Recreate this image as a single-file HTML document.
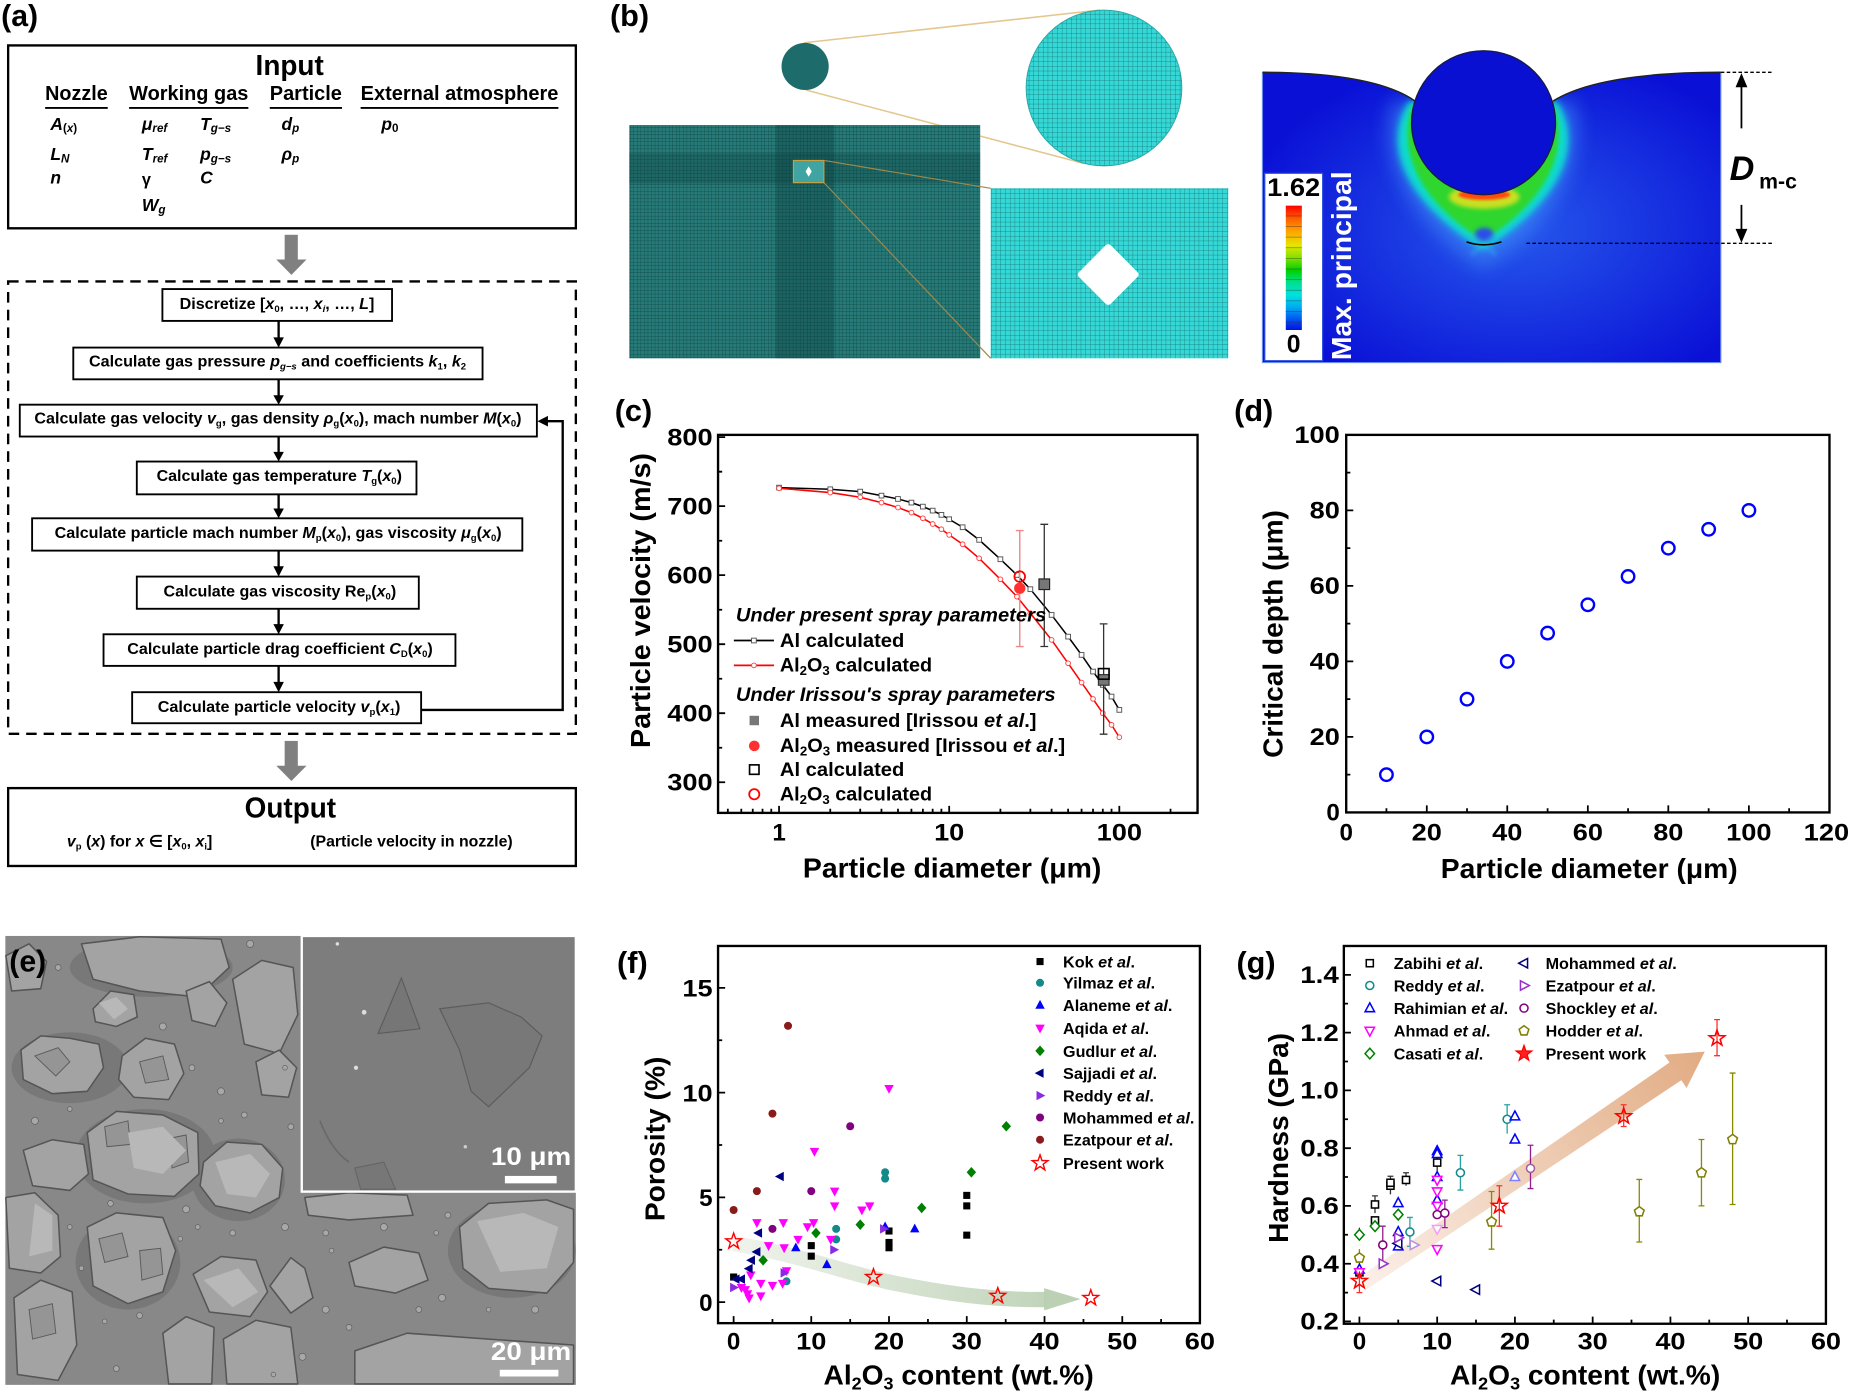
<!DOCTYPE html>
<html><head><meta charset="utf-8"><style>
html,body{margin:0;padding:0;background:#fff;}
svg{display:block;}
text{font-family:"Liberation Sans",Arial,sans-serif;font-weight:bold;fill:#000;}
</style></head><body>
<svg width="1850" height="1391" viewBox="0 0 1568 1179" preserveAspectRatio="none" xmlns="http://www.w3.org/2000/svg" xmlns:xlink="http://www.w3.org/1999/xlink">
<defs>
<pattern id="meshD" width="3" height="3" patternUnits="userSpaceOnUse"><rect width="3" height="3" fill="#287a78"/><path d="M0,0H3M0,0V3" stroke="#0f4f4d" stroke-width="0.7"/></pattern>
<pattern id="meshC" width="4" height="4" patternUnits="userSpaceOnUse"><rect width="4" height="4" fill="#35d8d6"/><path d="M0,0H4M0,0V4" stroke="#137472" stroke-width="0.6"/></pattern>
<linearGradient id="cbar" x1="0" y1="0" x2="0" y2="1">
<stop offset="0" stop-color="#ff0000"/><stop offset="0.1" stop-color="#ff5a00"/><stop offset="0.2" stop-color="#ffa000"/><stop offset="0.32" stop-color="#e6e600"/><stop offset="0.42" stop-color="#80e000"/><stop offset="0.52" stop-color="#00d000"/><stop offset="0.62" stop-color="#00e090"/><stop offset="0.72" stop-color="#00e0e0"/><stop offset="0.82" stop-color="#00a8f0"/><stop offset="0.92" stop-color="#0050f0"/><stop offset="1" stop-color="#0010e0"/></linearGradient>
<radialGradient id="bgblue" cx="0.55" cy="0.55" r="0.6"><stop offset="0" stop-color="#2658ec"/><stop offset="1" stop-color="#0a10d6"/></radialGradient>
<filter id="bl8" x="-50%" y="-50%" width="200%" height="200%"><feGaussianBlur stdDeviation="8"/></filter>
<filter id="bl3" x="-50%" y="-50%" width="200%" height="200%"><feGaussianBlur stdDeviation="3"/></filter>
<filter id="bl2" x="-50%" y="-50%" width="200%" height="200%"><feGaussianBlur stdDeviation="1.8"/></filter>
<filter id="bl1" x="-50%" y="-50%" width="200%" height="200%"><feGaussianBlur stdDeviation="1.1"/></filter>
<clipPath id="contourClip"><path d="M1070,61.3 Q1165,61.5 1199.2,85.6 L1257,104 L1316.4,85.6 Q1355,61.5 1458.5,61.3 L1458.5,307.3 L1070,307.3 Z"/></clipPath>
<linearGradient id="garrow" gradientUnits="userSpaceOnUse" x1="622" y1="1054" x2="916" y2="1101"><stop offset="0" stop-color="#eef2ea"/><stop offset="1" stop-color="#b5ccad"/></linearGradient>
<linearGradient id="parrow" gradientUnits="userSpaceOnUse" x1="1155" y1="1088" x2="1445" y2="891"><stop offset="0" stop-color="#fbeee6"/><stop offset="1" stop-color="#dea275"/></linearGradient>
<path id="star" d="M0,-7L1.65,-2.27L6.66,-2.16L2.66,0.87L4.11,5.66L0,2.8L-4.11,5.66L-2.66,0.87L-6.66,-2.16L-1.65,-2.27Z"/>
<rect id="sq" x="-3" y="-3" width="6" height="6"/>
<circle id="ci" cx="0" cy="0" r="3.4"/>
<path id="tu" d="M0,-4.5L4,3L-4,3Z"/>
<path id="td" d="M0,4.5L4,-3L-4,-3Z"/>
<path id="tl" d="M-4.5,0L3,-4L3,4Z"/>
<path id="tr" d="M4.5,0L-3,-4L-3,4Z"/>
<path id="di" d="M0,-4.5L4,0L0,4.5L-4,0Z"/>
<path id="pe" d="M0,-4.3L4.1,-1.3L2.5,3.5L-2.5,3.5L-4.1,-1.3Z"/>
</defs>
<rect width="1568" height="1179" fill="#fff"/>

<!-- ========== (a) ========== -->
<g transform="scale(0.986,1)">
<text x="1" y="22" font-size="26">(a)</text>
<rect x="7" y="38.5" width="488" height="155" fill="none" stroke="#000" stroke-width="2"/>
<text x="249" y="63.5" font-size="24" text-anchor="middle">Input</text>
<g font-size="17">
<text x="38.8" y="84.7" textLength="53.8" lengthAdjust="spacingAndGlyphs">Nozzle</text>
<text x="111" y="84.7" textLength="102.5" lengthAdjust="spacingAndGlyphs">Working gas</text>
<text x="231.9" y="84.7" textLength="62" lengthAdjust="spacingAndGlyphs">Particle</text>
<text x="310" y="84.7" textLength="170" lengthAdjust="spacingAndGlyphs">External atmosphere</text>
</g>
<path d="M38.8,91.5H92.6M111,91.5H213.5M231.9,91.5H294M310,91.5H480" stroke="#000" stroke-width="1.6"/>
<g font-size="15" font-style="italic">
<text x="43.3" y="110">A<tspan font-size="10" dy="2" font-style="normal">(</tspan><tspan font-size="10">x</tspan><tspan font-size="10" font-style="normal">)</tspan></text>
<text x="43.3" y="135.6">L<tspan font-size="10" dy="2">N</tspan></text>
<text x="43.3" y="155.4">n</text>
<text x="122" y="110">μ<tspan font-size="10" dy="2">ref</tspan></text>
<text x="122" y="135.6">T<tspan font-size="10" dy="2">ref</tspan></text>
<text x="122" y="157" font-style="normal" font-family="DejaVu Serif, serif" font-size="14">γ</text>
<text x="122" y="179">W<tspan font-size="10" dy="2">g</tspan></text>
<text x="172" y="110">T<tspan font-size="10" dy="2">g−s</tspan></text>
<text x="172" y="135.6">p<tspan font-size="10" dy="2">g−s</tspan></text>
<text x="172" y="155.4">C</text>
<text x="242" y="110">d<tspan font-size="10" dy="2">p</tspan></text>
<text x="242" y="135.6">ρ<tspan font-size="10" dy="2">p</tspan></text>
<text x="327.8" y="110">p<tspan font-size="10" dy="2" font-style="normal">0</tspan></text>
</g>
<rect x="244.7" y="199" width="11.3" height="22" fill="#808080"/>
<polygon points="237.5,220 263.5,220 250.5,233" fill="#808080"/>
<rect x="244.7" y="628" width="11.3" height="22" fill="#808080"/>
<polygon points="237.5,649 263.5,649 250.5,662" fill="#808080"/>
<rect x="7" y="238.5" width="488" height="383.5" fill="none" stroke="#000" stroke-width="2" stroke-dasharray="9,6"/>
<g fill="#fff" stroke="#000" stroke-width="1.6">
<rect x="139.6" y="245" width="197.4" height="27"/>
<rect x="63" y="294.6" width="351.8" height="26.9"/>
<rect x="17" y="343" width="444.5" height="27"/>
<rect x="117.6" y="391.2" width="240.4" height="27.8"/>
<rect x="27.6" y="439.3" width="421.4" height="27.4"/>
<rect x="117.6" y="488.7" width="242.4" height="27.3"/>
<rect x="89" y="537.6" width="302.5" height="26.8"/>
<rect x="113.6" y="586.7" width="248.4" height="26.3"/>
</g>
<g stroke="#000" stroke-width="2">
<path d="M239.5,272V287M239.5,321.5V336M239.5,370V384M239.5,419V432M239.5,466.7V481M239.5,516V530M239.5,564.4V579"/>
<polyline points="362,601.7 483.7,601.7 483.7,357 470,357" fill="none"/>
</g>
<g fill="#000">
<polygon points="235,286 244,286 239.5,294.6"/>
<polygon points="235,335 244,335 239.5,343"/>
<polygon points="235,383 244,383 239.5,391.2"/>
<polygon points="235,431 244,431 239.5,439.3"/>
<polygon points="235,480 244,480 239.5,488.7"/>
<polygon points="235,529 244,529 239.5,537.6"/>
<polygon points="235,578 244,578 239.5,586.7"/>
<polygon points="471,352.5 471,361.5 462,357"/>
</g>
<g font-size="13.5">
<text x="154.4" y="262.1" textLength="167.4" lengthAdjust="spacingAndGlyphs">Discretize [<tspan font-style="italic">x</tspan><tspan font-size="8" dy="2.5">0</tspan><tspan dy="-2.5">, …, </tspan><tspan font-style="italic">x</tspan><tspan font-size="8" dy="2.5" font-style="italic">i</tspan><tspan dy="-2.5">, …, </tspan><tspan font-style="italic">L</tspan>]</text>
<text x="76.5" y="310.7" textLength="324.2" lengthAdjust="spacingAndGlyphs">Calculate gas pressure <tspan font-style="italic">p</tspan><tspan font-size="8" dy="2.5" font-style="italic">g−s</tspan><tspan dy="-2.5"> and coefficients </tspan><tspan font-style="italic">k</tspan><tspan font-size="8" dy="2.5">1</tspan><tspan dy="-2.5">, </tspan><tspan font-style="italic">k</tspan><tspan font-size="8" dy="2.5">2</tspan></text>
<text x="29.6" y="358.8" textLength="418.7" lengthAdjust="spacingAndGlyphs">Calculate gas velocity <tspan font-style="italic">v</tspan><tspan font-size="8" dy="2.5">g</tspan><tspan dy="-2.5">, gas density </tspan><tspan font-style="italic">ρ</tspan><tspan font-size="8" dy="2.5">g</tspan><tspan dy="-2.5">(</tspan><tspan font-style="italic">x</tspan><tspan font-size="8" dy="2.5">0</tspan><tspan dy="-2.5">), mach number </tspan><tspan font-style="italic">M</tspan>(<tspan font-style="italic">x</tspan><tspan font-size="8" dy="2.5">0</tspan><tspan dy="-2.5">)</tspan></text>
<text x="134.6" y="407.6" textLength="210.9" lengthAdjust="spacingAndGlyphs">Calculate gas temperature <tspan font-style="italic">T</tspan><tspan font-size="8" dy="2.5">g</tspan><tspan dy="-2.5">(</tspan><tspan font-style="italic">x</tspan><tspan font-size="8" dy="2.5">0</tspan><tspan dy="-2.5">)</tspan></text>
<text x="47" y="456.2" textLength="384.2" lengthAdjust="spacingAndGlyphs">Calculate particle mach number <tspan font-style="italic">M</tspan><tspan font-size="8" dy="2.5">p</tspan><tspan dy="-2.5">(</tspan><tspan font-style="italic">x</tspan><tspan font-size="8" dy="2.5">0</tspan><tspan dy="-2.5">), gas viscosity </tspan><tspan font-style="italic">μ</tspan><tspan font-size="8" dy="2.5">g</tspan><tspan dy="-2.5">(</tspan><tspan font-style="italic">x</tspan><tspan font-size="8" dy="2.5">0</tspan><tspan dy="-2.5">)</tspan></text>
<text x="140.6" y="505.7" textLength="200" lengthAdjust="spacingAndGlyphs">Calculate gas viscosity Re<tspan font-size="8" dy="2.5">p</tspan><tspan dy="-2.5">(</tspan><tspan font-style="italic">x</tspan><tspan font-size="8" dy="2.5">0</tspan><tspan dy="-2.5">)</tspan></text>
<text x="109.4" y="554.2" textLength="262.6" lengthAdjust="spacingAndGlyphs">Calculate particle drag coefficient <tspan font-style="italic">C</tspan><tspan font-size="8" dy="2.5">D</tspan><tspan dy="-2.5">(</tspan><tspan font-style="italic">x</tspan><tspan font-size="8" dy="2.5">0</tspan><tspan dy="-2.5">)</tspan></text>
<text x="135.6" y="603.7" textLength="208.6" lengthAdjust="spacingAndGlyphs">Calculate particle velocity <tspan font-style="italic">v</tspan><tspan font-size="8" dy="2.5">p</tspan><tspan dy="-2.5">(</tspan><tspan font-style="italic">x</tspan><tspan font-size="8" dy="2.5">1</tspan><tspan dy="-2.5">)</tspan></text>
</g>
<rect x="7" y="668" width="488" height="66" fill="none" stroke="#000" stroke-width="2"/>
<text x="249.6" y="693" font-size="24" text-anchor="middle">Output</text>
<g font-size="13.5">
<text x="57.5" y="717.5" textLength="125" lengthAdjust="spacingAndGlyphs"><tspan font-style="italic">v</tspan><tspan font-size="8" dy="2.5">p</tspan><tspan dy="-2.5"> (</tspan><tspan font-style="italic">x</tspan>) for <tspan font-style="italic">x</tspan> ∈ [<tspan font-style="italic">x</tspan><tspan font-size="8" dy="2.5">0</tspan><tspan dy="-2.5">, </tspan><tspan font-style="italic">x</tspan><tspan font-size="8" dy="2.5">i</tspan><tspan dy="-2.5">]</tspan></text>
<text x="266.7" y="717.5" textLength="174" lengthAdjust="spacingAndGlyphs">(Particle velocity in nozzle)</text>
</g>
</g>

<!-- ========== (b) ========== -->
<text x="517" y="22" font-size="26">(b)</text>
<path d="M681.4,36.2L932.3,8.5M683.1,76.3L918,138.4" stroke="#e3c78f" stroke-width="1.3"/>
<circle cx="682.4" cy="56.3" r="20" fill="#1d6b6a"/>
<circle cx="935.7" cy="74.6" r="66" fill="url(#meshC)"/>
<circle cx="935.7" cy="74.6" r="66" fill="none" stroke="#2aa8a8" stroke-width="0.8"/>
<rect x="533.4" y="106" width="297.4" height="197.7" fill="url(#meshD)"/>
<rect x="657.5" y="106" width="49.5" height="197.7" fill="#0a3a3a" opacity="0.35"/>
<rect x="533.4" y="130" width="297.4" height="25.4" fill="#0a3a3a" opacity="0.3"/>
<rect x="672.5" y="136" width="25.8" height="18.8" fill="#3fa4a2" stroke="#c8a040" stroke-width="1"/>
<polygon points="685.4,141 688,145.4 685.4,149.8 682.8,145.4" fill="#fff"/>
<path d="M698.3,136L839.7,159.6M698.3,154.8L839.7,303.7" stroke="#a08848" stroke-width="1"/>
<rect x="839.7" y="159.6" width="201.3" height="144.1" fill="url(#meshC)"/>
<path d="M937,208 Q939.3,206 941.6,208 L964,230.5 Q966.3,232.7 964,234.9 L941.6,257.3 Q939.3,259.5 937,257.3 L914.6,234.9 Q912.3,232.7 914.6,230.5 Z" fill="#fff"/>

<!-- contour -->
<g clip-path="url(#contourClip)">
<rect x="1070" y="55" width="388.5" height="253" fill="url(#bgblue)"/>
<path d="M1180,86 C1168,130 1190,185 1257,228 C1324,185 1346,130 1334,86 Z" fill="#3c8cf5" opacity="0.6" filter="url(#bl8)"/>
<path d="M1194,86 C1172,122 1187,168 1257,212 C1327,168 1342,122 1320,86 Z" fill="#10dcd0" filter="url(#bl3)"/>
<path d="M1197,90 C1184,126 1201,170 1257,204 C1313,170 1330,126 1317,90 Z" fill="#2ed62e" filter="url(#bl2)"/>
<ellipse cx="1258" cy="167" rx="30" ry="10" fill="#c8e020" filter="url(#bl2)"/>
<ellipse cx="1258" cy="165" rx="22" ry="4.5" fill="#ff4a10" filter="url(#bl1)"/>
<ellipse cx="1258" cy="199" rx="8" ry="6" fill="#2a50e8" filter="url(#bl2)"/>
<path d="M1247,216 L1268,198 M1247,198 L1268,216" stroke="#30b0f0" stroke-width="3" opacity="0.5" filter="url(#bl2)"/>
</g>
<path d="M1070,61.3V307.3H1458.5V61.3" fill="none" stroke="#6a8af0" stroke-width="1"/>
<path d="M1070,61.3 Q1165,61.5 1199.2,85.6 M1316.4,85.6 Q1355,61.5 1458.5,61.3" fill="none" stroke="#222" stroke-width="1.3"/>
<circle cx="1257.4" cy="104" r="61" fill="#0a10d2" stroke="#1a1a40" stroke-width="1.1"/>
<path d="M1243,205 Q1257,210 1272.6,205" fill="none" stroke="#000" stroke-width="1.3"/>
<rect x="1072" y="146.9" width="49" height="158.8" fill="#fff" stroke="#3050e0" stroke-width="1"/>
<text x="1096.5" y="166.1" font-size="21" text-anchor="middle" textLength="45" lengthAdjust="spacingAndGlyphs">1.62</text>
<rect x="1089.8" y="174.3" width="13.6" height="105.4" fill="url(#cbar)"/>
<path d="M1089.8,183H1103.4M1089.8,192H1103.4M1089.8,201H1103.4M1089.8,210H1103.4M1089.8,219H1103.4M1089.8,228H1103.4M1089.8,237H1103.4M1089.8,246H1103.4M1089.8,255H1103.4M1089.8,264H1103.4M1089.8,273H1103.4" stroke="#333" stroke-width="0.7" opacity="0.5"/>
<text x="1096.5" y="298.9" font-size="21" text-anchor="middle">0</text>
<text transform="translate(1145,225.3) rotate(-90)" font-size="23.5" text-anchor="middle" textLength="160" lengthAdjust="spacingAndGlyphs" style="fill:#fff">Max. principal</text>
<path d="M1458.5,61.3H1502M1293.8,206.2H1502" stroke="#000" stroke-width="1.2" stroke-dasharray="3,2"/>
<path d="M1476,72V108.8M1476,173.7V195" stroke="#000" stroke-width="1.5"/>
<polygon points="1476,62 1471,74 1481,74" fill="#000"/>
<polygon points="1476,205.7 1471,194 1481,194" fill="#000"/>
<text x="1466" y="152.5" font-size="29" font-style="italic">D</text>
<text x="1491" y="159.6" font-size="18">m-c</text>

<!-- ========== (c) ========== -->
<text x="521" y="357" font-size="26">(c)</text>
<rect x="608.6" y="368.6" width="406.4" height="320.4" fill="none" stroke="#000" stroke-width="2"/>
<path d="M608.6,370.5h6M608.6,429h6M608.6,487.5h6M608.6,546h6M608.6,604.5h6M608.6,663h6M608.6,399.8h3.5M608.6,458.3h3.5M608.6,516.8h3.5M608.6,575.3h3.5M608.6,633.8h3.5M660.3,689v-6M804.5,689v-6M948.7,689v-6M616.9,689v-3.5M628.3,689v-3.5M638,689v-3.5M646.3,689v-3.5M653.7,689v-3.5M703.7,689v-3.5M729.1,689v-3.5M747.1,689v-3.5M761.1,689v-3.5M772.5,689v-3.5M782.2,689v-3.5M790.5,689v-3.5M797.9,689v-3.5M847.9,689v-3.5M873.3,689v-3.5M891.3,689v-3.5M905.3,689v-3.5M916.7,689v-3.5M926.4,689v-3.5M934.7,689v-3.5M942.1,689v-3.5M992.1,689v-3.5" stroke="#000" stroke-width="1.5"/>
<g font-size="20.5" text-anchor="end">
<text x="604" y="377.5" textLength="38.5" lengthAdjust="spacingAndGlyphs">800</text>
<text x="604" y="436" textLength="38.5" lengthAdjust="spacingAndGlyphs">700</text>
<text x="604" y="494.5" textLength="38.5" lengthAdjust="spacingAndGlyphs">600</text>
<text x="604" y="553" textLength="38.5" lengthAdjust="spacingAndGlyphs">500</text>
<text x="604" y="611.5" textLength="38.5" lengthAdjust="spacingAndGlyphs">400</text>
<text x="604" y="670" textLength="38.5" lengthAdjust="spacingAndGlyphs">300</text>
</g>
<g font-size="20.5" text-anchor="middle">
<text x="660.3" y="712.4">1</text>
<text x="804.5" y="712.4" textLength="25.6" lengthAdjust="spacingAndGlyphs">10</text>
<text x="948.7" y="712.4" textLength="38.5" lengthAdjust="spacingAndGlyphs">100</text>
</g>
<text transform="translate(551,509) rotate(-90)" font-size="23.5" text-anchor="middle" textLength="250" lengthAdjust="spacingAndGlyphs">Particle velocity (m/s)</text>
<text x="807" y="743.6" font-size="23.5" text-anchor="middle" textLength="253" lengthAdjust="spacingAndGlyphs">Particle diameter (μm)</text>
<polyline fill="none" stroke="#000" stroke-width="1.3" points="660.3,413.3 703.7,414.7 729.1,416.7 747.1,420.1 761.1,422.9 772.5,426 782.2,429.4 790.5,432.8 797.9,436.4 804.5,440.1 815.9,446.9 829.9,457.6 847.9,474 861.9,487.3 873.3,499.4 891.3,521.2 905.3,539.6 916.7,555.1 926.4,569.2 934.7,580.5 942.1,590.4 948.7,601.7"/>
<polyline fill="none" stroke="#ff0000" stroke-width="1.3" points="660.3,413.8 703.7,417.5 729.1,421.5 747.1,426 761.1,430.2 772.5,434.5 782.2,439.3 790.5,444.1 797.9,448.6 804.5,453.4 815.9,461.3 829.9,473.2 847.9,491 861.9,505.7 873.3,519.8 891.3,542.4 905.3,562.2 916.7,578.5 926.4,592.4 934.7,604.5 942.1,614.4 948.7,624.9"/>
<g fill="#fff" stroke="#555" stroke-width="0.8">
<rect x="658.3" y="411.3" width="4" height="4"/><rect x="701.7" y="412.7" width="4" height="4"/><rect x="727.1" y="414.7" width="4" height="4"/><rect x="745.1" y="418.1" width="4" height="4"/><rect x="759.1" y="420.9" width="4" height="4"/><rect x="770.5" y="424" width="4" height="4"/><rect x="780.2" y="427.4" width="4" height="4"/><rect x="788.5" y="430.8" width="4" height="4"/><rect x="795.9" y="434.4" width="4" height="4"/><rect x="802.5" y="438.1" width="4" height="4"/><rect x="813.9" y="444.9" width="4" height="4"/><rect x="827.9" y="455.6" width="4" height="4"/><rect x="845.9" y="472" width="4" height="4"/><rect x="859.9" y="485.3" width="4" height="4"/><rect x="871.3" y="497.4" width="4" height="4"/><rect x="889.3" y="519.2" width="4" height="4"/><rect x="903.3" y="537.6" width="4" height="4"/><rect x="914.7" y="553.1" width="4" height="4"/><rect x="924.4" y="567.2" width="4" height="4"/><rect x="932.7" y="578.5" width="4" height="4"/><rect x="940.1" y="588.4" width="4" height="4"/><rect x="946.7" y="599.7" width="4" height="4"/>
</g>
<g fill="#fff" stroke="#ff4040" stroke-width="0.8">
<circle cx="660.3" cy="413.8" r="2"/><circle cx="703.7" cy="417.5" r="2"/><circle cx="729.1" cy="421.5" r="2"/><circle cx="747.1" cy="426" r="2"/><circle cx="761.1" cy="430.2" r="2"/><circle cx="772.5" cy="434.5" r="2"/><circle cx="782.2" cy="439.3" r="2"/><circle cx="790.5" cy="444.1" r="2"/><circle cx="797.9" cy="448.6" r="2"/><circle cx="804.5" cy="453.4" r="2"/><circle cx="815.9" cy="461.3" r="2"/><circle cx="829.9" cy="473.2" r="2"/><circle cx="847.9" cy="491" r="2"/><circle cx="861.9" cy="505.7" r="2"/><circle cx="873.3" cy="519.8" r="2"/><circle cx="891.3" cy="542.4" r="2"/><circle cx="905.3" cy="562.2" r="2"/><circle cx="916.7" cy="578.5" r="2"/><circle cx="926.4" cy="592.4" r="2"/><circle cx="934.7" cy="604.5" r="2"/><circle cx="942.1" cy="614.4" r="2"/><circle cx="948.7" cy="624.9" r="2"/>
</g>
<path d="M864.3,449.7V548M861,449.7h6.6M861,548h6.6" stroke="#f08888" stroke-width="1.2"/>
<path d="M885.1,444.4V548M881.8,444.4h6.6M881.8,548h6.6M935.4,528.8V622.3M932.1,528.8h6.6M932.1,622.3h6.6" stroke="#333" stroke-width="1.1"/>
<circle cx="864.3" cy="498.6" r="4.8" fill="#ff3030"/>
<circle cx="864.3" cy="488.7" r="4.5" fill="none" stroke="#ff0000" stroke-width="1.5"/>
<rect x="880.6" y="490.7" width="9" height="9" fill="#777" stroke="#222" stroke-width="1"/>
<rect x="931" y="571.8" width="9" height="9" fill="#777" stroke="#333" stroke-width="1"/>
<rect x="931" y="566.7" width="9" height="9" fill="none" stroke="#000" stroke-width="1.4"/>
<g font-size="16.5">
<text x="623.7" y="526.8" font-style="italic" textLength="263" lengthAdjust="spacingAndGlyphs">Under present spray parameters</text>
<text x="661" y="548.6" textLength="105.5" lengthAdjust="spacingAndGlyphs">Al calculated</text>
<text x="661" y="569.2" textLength="129" lengthAdjust="spacingAndGlyphs">Al<tspan font-size="11" dy="3">2</tspan><tspan dy="-3">O</tspan><tspan font-size="11" dy="3">3</tspan><tspan dy="-3"> calculated</tspan></text>
<text x="623.7" y="594" font-style="italic" textLength="271" lengthAdjust="spacingAndGlyphs">Under Irissou's spray parameters</text>
<text x="661" y="616.3" textLength="217.5" lengthAdjust="spacingAndGlyphs">Al measured [Irissou <tspan font-style="italic">et al</tspan>.]</text>
<text x="661" y="637.5" textLength="241.8" lengthAdjust="spacingAndGlyphs">Al<tspan font-size="11" dy="3">2</tspan><tspan dy="-3">O</tspan><tspan font-size="11" dy="3">3</tspan><tspan dy="-3"> measured [Irissou </tspan><tspan font-style="italic">et al</tspan>.]</text>
<text x="661" y="657.9" textLength="105.5" lengthAdjust="spacingAndGlyphs">Al calculated</text>
<text x="661" y="678.3" textLength="129" lengthAdjust="spacingAndGlyphs">Al<tspan font-size="11" dy="3">2</tspan><tspan dy="-3">O</tspan><tspan font-size="11" dy="3">3</tspan><tspan dy="-3"> calculated</tspan></text>
</g>
<path d="M622,542.9H656" stroke="#000" stroke-width="1.5"/>
<rect x="637" y="540.9" width="4" height="4" fill="#fff" stroke="#555" stroke-width="0.8"/>
<path d="M622,564H656" stroke="#ff0000" stroke-width="1.5"/>
<circle cx="639" cy="564" r="2" fill="#fff" stroke="#ff4040" stroke-width="0.8"/>
<rect x="635.3" y="606.7" width="8" height="8" fill="#777"/>
<circle cx="639.3" cy="632.2" r="4.5" fill="#ff3030"/>
<rect x="635.3" y="648.3" width="8" height="8" fill="none" stroke="#000" stroke-width="1.4"/>
<circle cx="639.3" cy="673.2" r="4.3" fill="none" stroke="#ff0000" stroke-width="1.5"/>

<!-- ========== (d) ========== -->
<text x="1046" y="357" font-size="26">(d)</text>
<rect x="1141" y="368.6" width="409.6" height="320" fill="none" stroke="#000" stroke-width="2"/>
<path d="M1141,432.6h6M1141,496.6h6M1141,560.6h6M1141,624.6h6M1141,400.6h3.5M1141,464.6h3.5M1141,528.6h3.5M1141,592.6h3.5M1141,656.6h3.5M1209.3,688.6v-6M1277.5,688.6v-6M1345.8,688.6v-6M1414,688.6v-6M1482.3,688.6v-6M1175.1,688.6v-3.5M1243.4,688.6v-3.5M1311.7,688.6v-3.5M1379.9,688.6v-3.5M1448.2,688.6v-3.5M1516.4,688.6v-3.5" stroke="#000" stroke-width="1.5"/>
<g font-size="20.5" text-anchor="end">
<text x="1135.6" y="375.6" textLength="38.5" lengthAdjust="spacingAndGlyphs">100</text>
<text x="1135.6" y="439.6" textLength="25.6" lengthAdjust="spacingAndGlyphs">80</text>
<text x="1135.6" y="503.6" textLength="25.6" lengthAdjust="spacingAndGlyphs">60</text>
<text x="1135.6" y="567.6" textLength="25.6" lengthAdjust="spacingAndGlyphs">40</text>
<text x="1135.6" y="631.6" textLength="25.6" lengthAdjust="spacingAndGlyphs">20</text>
<text x="1135.6" y="695.6">0</text>
</g>
<g font-size="20.5" text-anchor="middle">
<text x="1141" y="712.4">0</text>
<text x="1209.3" y="712.4" textLength="25.6" lengthAdjust="spacingAndGlyphs">20</text>
<text x="1277.5" y="712.4" textLength="25.6" lengthAdjust="spacingAndGlyphs">40</text>
<text x="1345.8" y="712.4" textLength="25.6" lengthAdjust="spacingAndGlyphs">60</text>
<text x="1414" y="712.4" textLength="25.6" lengthAdjust="spacingAndGlyphs">80</text>
<text x="1482.3" y="712.4" textLength="38.5" lengthAdjust="spacingAndGlyphs">100</text>
<text x="1548" y="712.4" textLength="38.5" lengthAdjust="spacingAndGlyphs">120</text>
</g>
<text transform="translate(1087,537.4) rotate(-90)" font-size="23.5" text-anchor="middle" textLength="210" lengthAdjust="spacingAndGlyphs">Critical depth (μm)</text>
<text x="1347" y="744" font-size="23.5" text-anchor="middle" textLength="251.7" lengthAdjust="spacingAndGlyphs">Particle diameter (μm)</text>
<g fill="none" stroke="#0000ff" stroke-width="2">
<circle cx="1175.1" cy="656.6" r="5.3"/><circle cx="1209.3" cy="624.6" r="5.3"/><circle cx="1243.4" cy="592.6" r="5.3"/><circle cx="1277.5" cy="560.6" r="5.3"/><circle cx="1311.7" cy="536.6" r="5.3"/><circle cx="1345.8" cy="512.6" r="5.3"/><circle cx="1379.9" cy="488.6" r="5.3"/><circle cx="1414" cy="464.6" r="5.3"/><circle cx="1448.2" cy="448.6" r="5.3"/><circle cx="1482.3" cy="432.6" r="5.3"/>
</g>

<!-- ========== (e) ========== -->
<g transform="scale(0.986,1)">
<rect x="4.6" y="793.3" width="490.4" height="380.5" fill="#888"/>
<g fill="#6e6e6e" opacity="0.6">
<ellipse cx="60" cy="905" rx="50" ry="30"/><ellipse cx="125" cy="980" rx="60" ry="40"/><ellipse cx="205" cy="1000" rx="40" ry="35"/><ellipse cx="110" cy="1070" rx="45" ry="40"/><ellipse cx="440" cy="1060" rx="55" ry="40"/><ellipse cx="130" cy="820" rx="70" ry="25"/>
</g>
<g fill="#a3a3a3" stroke="#555" stroke-width="1.3" stroke-linejoin="round">
<polygon points="70,800 120,794 190,796 197,820 170,845 120,840 80,830"/>
<polygon points="80,855 95,840 115,843 118,862 100,870 82,866"/>
<polygon points="18,890 35,878 60,880 85,885 89,905 75,925 45,927 20,915"/>
<polygon points="105,895 125,880 150,885 158,910 145,932 115,930 102,915"/>
<polygon points="75,960 100,942 140,945 170,960 171,995 150,1014 110,1012 80,1000"/>
<polygon points="20,975 45,966 72,970 76,995 60,1009 28,1005"/>
<polygon points="175,985 195,968 225,970 243,990 240,1015 215,1028 185,1022 172,1005"/>
<polygon points="5,1015 30,1011 50,1030 52,1065 35,1079 8,1075"/>
<polygon points="75,1040 100,1028 140,1032 151,1060 140,1095 110,1105 80,1090"/>
<polygon points="166,1080 190,1065 220,1068 230,1095 215,1116 180,1112"/>
<polygon points="232,1090 250,1066 262,1075 269,1100 250,1113"/>
<polygon points="140,1130 160,1116 184,1125 182,1173 145,1173"/>
<polygon points="12,1100 35,1085 62,1095 66,1140 50,1170 15,1165"/>
<polygon points="395,1040 420,1020 470,1017 493,1025 493,1070 470,1096 420,1092 398,1075"/>
<polygon points="300,1070 330,1057 360,1062 368,1085 340,1096 305,1090"/>
<polygon points="262,1015 300,1011 350,1013 355,1030 300,1034 265,1030"/>
<polygon points="305,1145 350,1130 420,1135 493,1140 493,1173 305,1173"/>
<polygon points="192,1135 220,1119 250,1125 256,1173 195,1173"/>
<polygon points="200,830 225,814 252,820 256,860 240,893 210,885"/>
<polygon points="5,810 25,800 40,815 35,838 10,840"/>
<polygon points="220,900 240,890 255,905 248,930 225,928"/>
<polygon points="160,840 180,832 195,850 185,870 165,865"/>
</g>
<g fill="#959595" stroke="#5a5a5a" stroke-width="0.8">
<polygon points="30,895 50,888 60,900 48,912"/><polygon points="120,900 140,895 145,915 125,918"/><polygon points="90,955 110,950 112,970 92,972"/><polygon points="145,965 160,962 162,985 148,990"/><polygon points="85,1050 105,1045 110,1065 90,1070"/><polygon points="120,1060 138,1058 140,1080 122,1085"/><polygon points="430,1050 455,1045 460,1070 435,1075"/><polygon points="25,1110 45,1105 48,1130 28,1135"/>
</g>
<g fill="#b8b8b8" stroke="none">
<polygon points="85,850 100,845 110,855 98,864"/>
<polygon points="110,960 140,955 160,975 140,995 115,990"/>
<polygon points="185,985 215,978 232,995 220,1015 195,1012"/>
<polygon points="175,1085 205,1075 222,1095 200,1108"/>
<polygon points="410,1035 450,1028 480,1040 470,1075 430,1078"/>
<polygon points="30,1020 45,1030 45,1060 25,1065"/>
</g>
<g fill="#a8a8a8" stroke="#606060" stroke-width="0.6">
<circle cx="140" cy="870" r="3"/><circle cx="165" cy="905" r="2.5"/><circle cx="190" cy="925" r="3"/><circle cx="60" cy="940" r="2"/><circle cx="30" cy="950" r="3"/><circle cx="95" cy="1020" r="2.5"/><circle cx="160" cy="1025" r="3"/><circle cx="250" cy="955" r="2.5"/><circle cx="245" cy="1040" r="3"/><circle cx="280" cy="1045" r="2.5"/><circle cx="330" cy="1040" r="3"/><circle cx="375" cy="1045" r="2"/><circle cx="380" cy="1100" r="3"/><circle cx="360" cy="1110" r="2.5"/><circle cx="280" cy="1110" r="3"/><circle cx="120" cy="1115" r="2.5"/><circle cx="70" cy="1075" r="2"/><circle cx="260" cy="1150" r="3"/><circle cx="200" cy="1045" r="2.5"/><circle cx="155" cy="1050" r="2"/><circle cx="50" cy="820" r="2.5"/><circle cx="215" cy="800" r="3"/><circle cx="245" cy="905" r="2"/><circle cx="190" cy="950" r="2"/><circle cx="300" cy="1125" r="2.5"/><circle cx="420" cy="1110" r="2"/><circle cx="460" cy="1110" r="3"/><circle cx="100" cy="1160" r="2.5"/><circle cx="235" cy="1165" r="2"/><circle cx="285" cy="1060" r="2"/><circle cx="385" cy="1030" r="2.5"/><circle cx="90" cy="1120" r="2"/><circle cx="60" cy="1040" r="2"/><circle cx="210" cy="945" r="2.5"/><circle cx="170" cy="1040" r="2"/>
</g>
<rect x="259.4" y="793.3" width="235.6" height="216.7" fill="#7d7d7d" stroke="#fff" stroke-width="2"/>
<polygon points="325,876 345,829 361,872" fill="#767676" stroke="#5c5c5c" stroke-width="1"/>
<polygon points="378,855 420,850 448,862 466,878 455,905 420,938 405,925 395,890" fill="#787878" stroke="#5c5c5c" stroke-width="1"/>
<polygon points="305,990 330,985 340,1008 310,1008" fill="#777" stroke="#666" stroke-width="1"/>
<path d="M275,950 Q285,975 300,985" stroke="#6a6a6a" stroke-width="1.5" fill="none"/>
<circle cx="313" cy="858" r="2" fill="#ddd"/><circle cx="306" cy="905" r="1.8" fill="#ddd"/><circle cx="400" cy="972" r="1.5" fill="#ccc"/><circle cx="290" cy="800" r="1.5" fill="#ddd"/>
<text x="8" y="823.5" font-size="26">(e)</text>
<text x="491" y="987.3" font-size="21.5" text-anchor="end" textLength="69" lengthAdjust="spacingAndGlyphs" style="fill:#fff">10 μm</text>
<rect x="434" y="996.7" width="44.5" height="6.3" fill="#fff"/>
<text x="491" y="1152.6" font-size="21.5" text-anchor="end" textLength="69" lengthAdjust="spacingAndGlyphs" style="fill:#fff">20 μm</text>
<rect x="429.6" y="1161" width="50.4" height="5.7" fill="#fff"/>
</g>

<!-- ========== (f) ========== -->
<text x="523" y="824.8" font-size="26">(f)</text>
<rect x="608.6" y="801.8" width="408.4" height="319.7" fill="none" stroke="#000" stroke-width="2"/>
<path d="M608.6,1103.7h6M608.6,1014.9h6M608.6,926.1h6M608.6,837.3h6M608.6,1059.3h3.5M608.6,970.5h3.5M608.6,881.7h3.5M621.8,1121.5v-6M687.6,1121.5v-6M753.5,1121.5v-6M819.4,1121.5v-6M885.3,1121.5v-6M951.2,1121.5v-6M654.7,1121.5v-3.5M720.6,1121.5v-3.5M786.5,1121.5v-3.5M852.4,1121.5v-3.5M918.3,1121.5v-3.5M984.1,1121.5v-3.5" stroke="#000" stroke-width="1.5"/>
<g font-size="20.5" text-anchor="end">
<text x="604" y="1111.2">0</text>
<text x="604" y="1022.4">5</text>
<text x="604" y="933.6" textLength="25.6" lengthAdjust="spacingAndGlyphs">10</text>
<text x="604" y="844.8" textLength="25.6" lengthAdjust="spacingAndGlyphs">15</text>
</g>
<g font-size="20.5" text-anchor="middle">
<text x="621.8" y="1144">0</text>
<text x="687.6" y="1144" textLength="25.6" lengthAdjust="spacingAndGlyphs">10</text>
<text x="753.5" y="1144" textLength="25.6" lengthAdjust="spacingAndGlyphs">20</text>
<text x="819.4" y="1144" textLength="25.6" lengthAdjust="spacingAndGlyphs">30</text>
<text x="885.3" y="1144" textLength="25.6" lengthAdjust="spacingAndGlyphs">40</text>
<text x="951.2" y="1144" textLength="25.6" lengthAdjust="spacingAndGlyphs">50</text>
<text x="1017" y="1144" textLength="25.6" lengthAdjust="spacingAndGlyphs">60</text>
</g>
<text transform="translate(563,965.3) rotate(-90)" font-size="23.5" text-anchor="middle" textLength="139.5" lengthAdjust="spacingAndGlyphs">Porosity (%)</text>
<text x="698" y="1173.7" font-size="23.5" textLength="229" lengthAdjust="spacingAndGlyphs">Al<tspan font-size="15" dy="4">2</tspan><tspan dy="-4">O</tspan><tspan font-size="15" dy="4">3</tspan><tspan dy="-4"> content (wt.%)</tspan></text>
<path d="M621.8,1054 C680,1064 720,1080 760,1088 C800,1096 840,1102 886,1101.5" fill="none" stroke="url(#garrow)" stroke-width="13" opacity="0.9"/>
<polygon points="885,1091.8 915.8,1101.1 885,1110.7" fill="#b8cdb0" opacity="0.95"/>
<g fill="#000">
<use xlink:href="#sq" x="621.8" y="1082.4"/><use xlink:href="#sq" x="687.6" y="1055.8"/><use xlink:href="#sq" x="687.6" y="1064.7"/><use xlink:href="#sq" x="753.5" y="1043.4"/><use xlink:href="#sq" x="753.5" y="1053.1"/><use xlink:href="#sq" x="753.5" y="1057.6"/><use xlink:href="#sq" x="819.4" y="1013.2"/><use xlink:href="#sq" x="819.4" y="1022.1"/><use xlink:href="#sq" x="819.4" y="1046.9"/>
</g>
<g fill="#138a8a">
<use xlink:href="#ci" x="750.2" y="993.6"/><use xlink:href="#ci" x="750.2" y="999"/><use xlink:href="#ci" x="708.7" y="1041.6"/><use xlink:href="#ci" x="708.7" y="1050.5"/><use xlink:href="#ci" x="666.6" y="1086"/>
</g>
<g fill="#0000ff">
<use xlink:href="#tu" x="674.5" y="1057.6"/><use xlink:href="#tu" x="700.8" y="1071.8"/><use xlink:href="#tu" x="750.2" y="1039.8"/><use xlink:href="#tu" x="775.3" y="1041.6"/>
</g>
<g fill="#ff00ff">
<use xlink:href="#td" x="641.5" y="1036.3"/><use xlink:href="#td" x="663.9" y="1036.3"/><use xlink:href="#td" x="651.4" y="1055.8"/><use xlink:href="#td" x="664.6" y="1057.6"/><use xlink:href="#td" x="631.7" y="1093.1"/><use xlink:href="#td" x="633.6" y="1096.6"/><use xlink:href="#td" x="634.9" y="1100.2"/><use xlink:href="#td" x="636.3" y="1080.7"/><use xlink:href="#td" x="644.8" y="1087.8"/><use xlink:href="#td" x="644.8" y="1098.4"/><use xlink:href="#td" x="654.7" y="1089.5"/><use xlink:href="#td" x="663.3" y="1087.8"/><use xlink:href="#td" x="666.6" y="1077.1"/><use xlink:href="#td" x="684.4" y="1039.8"/><use xlink:href="#td" x="689.6" y="1036.3"/><use xlink:href="#td" x="690.3" y="975.9"/><use xlink:href="#td" x="704.1" y="1050.5"/><use xlink:href="#td" x="707.4" y="1022.1"/><use xlink:href="#td" x="707.4" y="1009.6"/><use xlink:href="#td" x="676.4" y="1050.5"/><use xlink:href="#td" x="730.5" y="1025.6"/><use xlink:href="#td" x="737.1" y="1022.1"/><use xlink:href="#td" x="753.5" y="922.6"/><use xlink:href="#td" x="628.4" y="1091.3"/>
</g>
<g fill="#008000">
<use xlink:href="#di" x="646.8" y="1068.2"/><use xlink:href="#di" x="691.6" y="1045.1"/><use xlink:href="#di" x="729.1" y="1038"/><use xlink:href="#di" x="781.2" y="1023.8"/><use xlink:href="#di" x="823.3" y="993.6"/><use xlink:href="#di" x="852.9" y="954.6"/>
</g>
<g fill="#000080">
<use xlink:href="#tl" x="623.8" y="1084.2"/><use xlink:href="#tl" x="628.4" y="1084.2"/><use xlink:href="#tl" x="634.9" y="1075.3"/><use xlink:href="#tl" x="636.9" y="1068.2"/><use xlink:href="#tl" x="641.5" y="1061.1"/><use xlink:href="#tl" x="642.9" y="1045.1"/><use xlink:href="#tl" x="661.3" y="997.2"/>
</g>
<g fill="#8a2be2">
<use xlink:href="#tr" x="621.8" y="1091.3"/><use xlink:href="#tr" x="664.6" y="1078.9"/><use xlink:href="#tr" x="706.7" y="1059.3"/><use xlink:href="#tr" x="748.9" y="1041.6"/>
</g>
<g fill="#800080">
<use xlink:href="#ci" x="654.7" y="1041.6"/><use xlink:href="#ci" x="687.6" y="1009.6"/><use xlink:href="#ci" x="720.6" y="954.6"/>
</g>
<g fill="#8b1a1a">
<use xlink:href="#ci" x="621.8" y="1025.6"/><use xlink:href="#ci" x="641.5" y="1009.6"/><use xlink:href="#ci" x="654.7" y="943.9"/><use xlink:href="#ci" x="667.9" y="869.5"/>
</g>
<g fill="none" stroke="#ff0000" stroke-width="1.2">
<use xlink:href="#star" x="621.8" y="1052.2"/><use xlink:href="#star" x="740.3" y="1082.4"/><use xlink:href="#star" x="845.7" y="1098.4"/><use xlink:href="#star" x="924.5" y="1100.2"/>
</g>
<use xlink:href="#sq" x="881.5" y="815" fill="#000"/>
<use xlink:href="#ci" x="881.5" y="833" fill="#138a8a"/>
<use xlink:href="#tu" x="881.5" y="852" fill="#0000ff"/>
<use xlink:href="#td" x="881.5" y="871.5" fill="#ff00ff"/>
<use xlink:href="#di" x="881.5" y="890.7" fill="#008000"/>
<use xlink:href="#tl" x="881.5" y="909.6" fill="#000080"/>
<use xlink:href="#tr" x="881.5" y="928.6" fill="#8a2be2"/>
<use xlink:href="#ci" x="881.5" y="947.2" fill="#800080"/>
<use xlink:href="#ci" x="881.5" y="966" fill="#8b1a1a"/>
<use xlink:href="#star" x="881.5" y="985.9" fill="none" stroke="#ff0000" stroke-width="1.2"/>
<g font-size="13.5">
<text x="901" y="820" textLength="61" lengthAdjust="spacingAndGlyphs">Kok <tspan font-style="italic">et al</tspan>.</text>
<text x="901" y="838" textLength="78" lengthAdjust="spacingAndGlyphs">Yilmaz <tspan font-style="italic">et al</tspan>.</text>
<text x="901" y="857" textLength="92.7" lengthAdjust="spacingAndGlyphs">Alaneme <tspan font-style="italic">et al</tspan>.</text>
<text x="901" y="876.5" textLength="72.9" lengthAdjust="spacingAndGlyphs">Aqida <tspan font-style="italic">et al</tspan>.</text>
<text x="901" y="895.7" textLength="79.7" lengthAdjust="spacingAndGlyphs">Gudlur <tspan font-style="italic">et al</tspan>.</text>
<text x="901" y="914.6" textLength="79.7" lengthAdjust="spacingAndGlyphs">Sajjadi <tspan font-style="italic">et al</tspan>.</text>
<text x="901" y="933.6" textLength="77" lengthAdjust="spacingAndGlyphs">Reddy <tspan font-style="italic">et al</tspan>.</text>
<text x="901" y="952.2" textLength="111.3" lengthAdjust="spacingAndGlyphs">Mohammed <tspan font-style="italic">et al</tspan>.</text>
<text x="901" y="971" textLength="93.4" lengthAdjust="spacingAndGlyphs">Ezatpour <tspan font-style="italic">et al</tspan>.</text>
<text x="901" y="990.9" textLength="85.6" lengthAdjust="spacingAndGlyphs">Present work</text>
</g>

<!-- ========== (g) ========== -->
<text x="1048" y="824.8" font-size="26">(g)</text>
<rect x="1139" y="801.8" width="408.6" height="320.2" fill="none" stroke="#000" stroke-width="2"/>
<path d="M1139,1120h6M1139,1071.1h6M1139,1022.1h6M1139,973.2h6M1139,924.2h6M1139,875.2h6M1139,826.3h6M1139,1095.6h3.5M1139,1046.6h3.5M1139,997.6h3.5M1139,948.7h3.5M1139,899.7h3.5M1139,850.7h3.5M1152.2,1122v-6M1218.1,1122v-6M1284,1122v-6M1349.9,1122v-6M1415.8,1122v-6M1481.7,1122v-6M1185.1,1122v-3.5M1251,1122v-3.5M1316.9,1122v-3.5M1382.8,1122v-3.5M1448.7,1122v-3.5M1514.6,1122v-3.5" stroke="#000" stroke-width="1.5"/>
<g font-size="20.5" text-anchor="end">
<text x="1134.7" y="1127" textLength="32.7" lengthAdjust="spacingAndGlyphs">0.2</text>
<text x="1134.7" y="1078.1" textLength="32.7" lengthAdjust="spacingAndGlyphs">0.4</text>
<text x="1134.7" y="1029.1" textLength="32.7" lengthAdjust="spacingAndGlyphs">0.6</text>
<text x="1134.7" y="980.2" textLength="32.7" lengthAdjust="spacingAndGlyphs">0.8</text>
<text x="1134.7" y="931.2" textLength="32.7" lengthAdjust="spacingAndGlyphs">1.0</text>
<text x="1134.7" y="882.2" textLength="32.7" lengthAdjust="spacingAndGlyphs">1.2</text>
<text x="1134.7" y="833.3" textLength="32.7" lengthAdjust="spacingAndGlyphs">1.4</text>
</g>
<g font-size="20.5" text-anchor="middle">
<text x="1152.2" y="1144">0</text>
<text x="1218.1" y="1144" textLength="25.6" lengthAdjust="spacingAndGlyphs">10</text>
<text x="1284" y="1144" textLength="25.6" lengthAdjust="spacingAndGlyphs">20</text>
<text x="1349.9" y="1144" textLength="25.6" lengthAdjust="spacingAndGlyphs">30</text>
<text x="1415.8" y="1144" textLength="25.6" lengthAdjust="spacingAndGlyphs">40</text>
<text x="1481.7" y="1144" textLength="25.6" lengthAdjust="spacingAndGlyphs">50</text>
<text x="1547.6" y="1144" textLength="25.6" lengthAdjust="spacingAndGlyphs">60</text>
</g>
<text transform="translate(1091.5,964.5) rotate(-90)" font-size="23.5" text-anchor="middle" textLength="178" lengthAdjust="spacingAndGlyphs">Hardness (GPa)</text>
<text x="1229" y="1173.7" font-size="23.5" textLength="229" lengthAdjust="spacingAndGlyphs">Al<tspan font-size="15" dy="4">2</tspan><tspan dy="-4">O</tspan><tspan font-size="15" dy="4">3</tspan><tspan dy="-4"> content (wt.%)</tspan></text>
<polygon points="1151.8,1082.6 1415,900.6 1410.5,894 1444.9,891.3 1429.5,922.2 1425,915.6 1158.6,1092.6" fill="url(#parrow)" opacity="0.9"/>
<g stroke-width="1.1" fill="none">
<path d="M1165.4,1013.6V1028.2M1178.5,1012.3V997M1191.7,1005V994M1218.1,992.7V978.1M1152.2,1051.5V1040.5M1162.9,1013.6h5M1176,997h5M1189.2,994h5M1215.6,978.1h5" stroke="#333"/>
<path d="M1195,1056.4V1031.9M1192.5,1031.9h5M1192.5,1056.4h5M1237.8,1008.7V979.3M1235.3,979.3h5M1235.3,1008.7h5M1277.4,960.9V936.4M1274.9,936.4h5" stroke="#2aa0a0"/>
<path d="M1172,1071.1V1039.3M1169.5,1039.3h5M1224.6,1040.5V1017.2M1222.1,1017.2h5M1222.1,1040.5h5M1297.2,1007.4V970.7M1294.7,970.7h5M1294.7,1007.4h5" stroke="#902090"/>
<path d="M1152.2,1083.3V1058.8M1264.2,1058.8V1009.9M1261.7,1009.9h5M1261.7,1058.8h5M1389.4,1052.7V999.7M1386.9,999.7h5M1386.9,1052.7h5M1442.1,1022.1V965.8M1439.6,965.8h5M1439.6,1022.1h5M1468.5,1020.9V909.5M1466,909.5h5M1466,1020.9h5" stroke="#8a8a00"/>
<path d="M1152.2,1095.6V1076M1149.7,1095.6h5M1270.8,1039.3V1005M1268.3,1005h5M1268.3,1039.3h5M1376.2,954.8V936.4M1373.7,936.4h5M1373.7,954.8h5M1455.3,894.8V864.2M1452.8,864.2h5M1452.8,894.8h5" stroke="#ff3030"/>
</g>
<g fill="#fff" stroke-width="1.3">
<g stroke="#000">
<use xlink:href="#sq" x="1152.2" y="1078.4"/><use xlink:href="#sq" x="1165.4" y="1020.9"/><use xlink:href="#sq" x="1165.4" y="1034.4"/><use xlink:href="#sq" x="1178.5" y="1005"/><use xlink:href="#sq" x="1178.5" y="1002.5"/><use xlink:href="#sq" x="1191.7" y="1000.1"/><use xlink:href="#sq" x="1218.1" y="985.4"/>
</g>
<g stroke="#138a8a">
<use xlink:href="#ci" x="1195" y="1044.2"/><use xlink:href="#ci" x="1237.8" y="994"/><use xlink:href="#ci" x="1277.4" y="948.7"/>
</g>
<g stroke="#0000ff">
<use xlink:href="#tu" x="1152.2" y="1076"/><use xlink:href="#tu" x="1185.1" y="1019.7"/><use xlink:href="#tu" x="1185.1" y="1044.2"/><use xlink:href="#tu" x="1185.1" y="1056.4"/><use xlink:href="#tu" x="1218.1" y="975.6"/><use xlink:href="#tu" x="1218.1" y="978.1"/><use xlink:href="#tu" x="1218.1" y="1017.2"/><use xlink:href="#tu" x="1218.1" y="997.6"/><use xlink:href="#tu" x="1284" y="946.2"/><use xlink:href="#tu" x="1284" y="965.8"/>
</g>
<use xlink:href="#tu" x="1284" y="997.6" stroke="#8080ff"/>
<g stroke="#ff00ff">
<use xlink:href="#td" x="1218.1" y="1000.1"/><use xlink:href="#td" x="1218.1" y="1009.9"/><use xlink:href="#td" x="1218.1" y="1022.1"/><use xlink:href="#td" x="1218.1" y="1058.8"/><use xlink:href="#td" x="1152.2" y="1078.4"/>
</g>
<use xlink:href="#td" x="1218.1" y="1041.7" stroke="#f0a0f0"/>
<g stroke="#008000">
<use xlink:href="#di" x="1152.2" y="1046.6"/><use xlink:href="#di" x="1165.4" y="1039.3"/><use xlink:href="#di" x="1185.1" y="1029.5"/>
</g>
<g stroke="#000080">
<use xlink:href="#tl" x="1218.1" y="1085.8"/><use xlink:href="#tl" x="1251" y="1093.1"/><use xlink:href="#tl" x="1185.1" y="1053.9"/>
</g>
<g stroke="#9932cc">
<use xlink:href="#tr" x="1172" y="1071.1"/><use xlink:href="#tr" x="1185.1" y="1049.1"/>
</g>
<use xlink:href="#tr" x="1198.3" y="1055.2" stroke="#b890e0"/>
<g stroke="#800080">
<use xlink:href="#ci" x="1172" y="1055.2"/><use xlink:href="#ci" x="1218.1" y="1029.5"/><use xlink:href="#ci" x="1224.6" y="1028.2"/>
</g>
<use xlink:href="#ci" x="1297.2" y="990.3" stroke="#a060a0"/>
<g stroke="#808000">
<use xlink:href="#pe" x="1152.2" y="1066.2"/><use xlink:href="#pe" x="1264.2" y="1035.6"/><use xlink:href="#pe" x="1389.4" y="1027"/><use xlink:href="#pe" x="1442.1" y="994"/><use xlink:href="#pe" x="1468.5" y="965.8"/>
</g>
</g>
<g fill="none" stroke="#ff0000" stroke-width="1.3">
<use xlink:href="#star" x="1152.2" y="1085.8"/><use xlink:href="#star" x="1270.8" y="1022.1"/><use xlink:href="#star" x="1376.2" y="946.2"/><use xlink:href="#star" x="1455.3" y="880.1"/>
</g>
<g fill="#fff" stroke-width="1.3">
<use xlink:href="#sq" x="1161" y="816.4" stroke="#000"/>
<use xlink:href="#ci" x="1161" y="835.3" stroke="#138a8a"/>
<use xlink:href="#tu" x="1161" y="854.5" stroke="#0000ff"/>
<use xlink:href="#td" x="1161" y="873.7" stroke="#ff00ff"/>
<use xlink:href="#di" x="1161" y="893" stroke="#008000"/>
<use xlink:href="#tl" x="1291.7" y="816.4" stroke="#000080"/>
<use xlink:href="#tr" x="1291.7" y="835.3" stroke="#9932cc"/>
<use xlink:href="#ci" x="1291.7" y="854.5" stroke="#800080"/>
<use xlink:href="#pe" x="1291.7" y="873.7" stroke="#808000"/>
</g>
<use xlink:href="#star" x="1291.7" y="893" fill="#ff2020" stroke="#ff0000" stroke-width="1"/>
<g font-size="13.5">
<text x="1181.3" y="821.4" textLength="75.8" lengthAdjust="spacingAndGlyphs">Zabihi <tspan font-style="italic">et al</tspan>.</text>
<text x="1181.3" y="840.3" textLength="76.9" lengthAdjust="spacingAndGlyphs">Reddy <tspan font-style="italic">et al</tspan>.</text>
<text x="1181.3" y="859.5" textLength="97" lengthAdjust="spacingAndGlyphs">Rahimian <tspan font-style="italic">et al</tspan>.</text>
<text x="1181.3" y="878.7" textLength="81.9" lengthAdjust="spacingAndGlyphs">Ahmad <tspan font-style="italic">et al</tspan>.</text>
<text x="1181.3" y="898" textLength="75.8" lengthAdjust="spacingAndGlyphs">Casati <tspan font-style="italic">et al</tspan>.</text>
<text x="1310" y="821.4" textLength="111.2" lengthAdjust="spacingAndGlyphs">Mohammed <tspan font-style="italic">et al</tspan>.</text>
<text x="1310" y="840.3" textLength="93.3" lengthAdjust="spacingAndGlyphs">Ezatpour <tspan font-style="italic">et al</tspan>.</text>
<text x="1310" y="859.5" textLength="95" lengthAdjust="spacingAndGlyphs">Shockley <tspan font-style="italic">et al</tspan>.</text>
<text x="1310" y="878.7" textLength="82.5" lengthAdjust="spacingAndGlyphs">Hodder <tspan font-style="italic">et al</tspan>.</text>
<text x="1310" y="898" textLength="85.2" lengthAdjust="spacingAndGlyphs">Present work</text>
</g>
</svg>
</body></html>
